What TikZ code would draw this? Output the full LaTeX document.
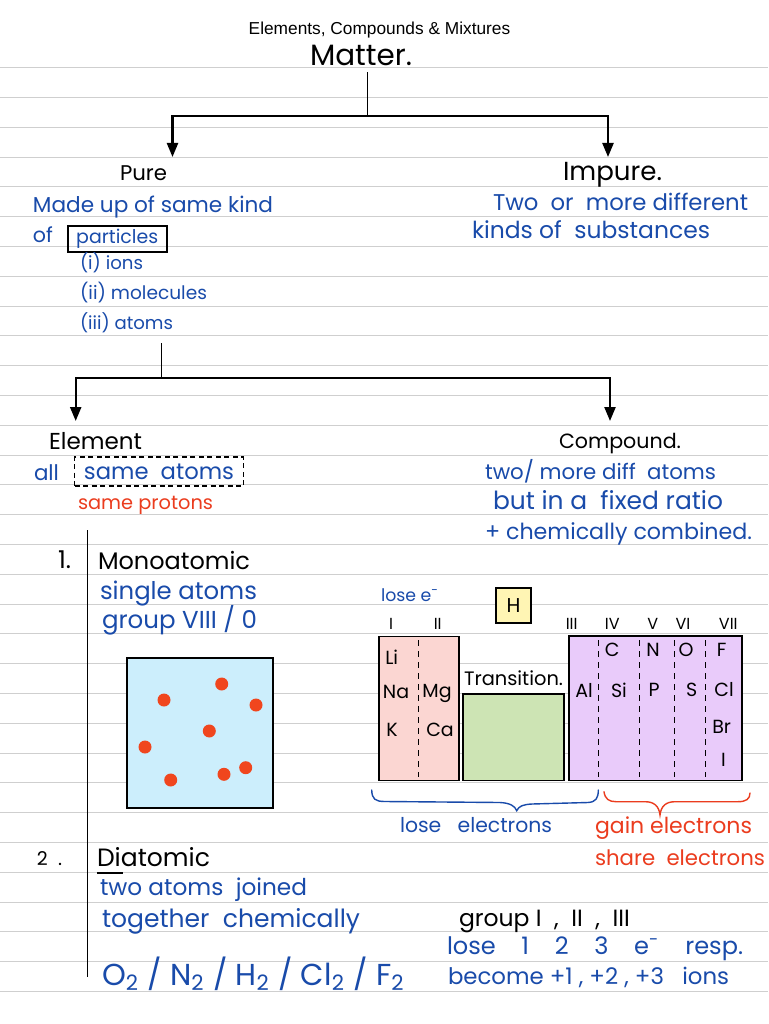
\documentclass[tikz,border=0pt]{standalone}
\usepackage{graphicx}
\usepackage{fontspec}
\setmainfont{Liberation Sans}
\newfontfamily\hwfont{Poppins}
\usetikzlibrary{arrows.meta}
\definecolor{ink}{HTML}{194BAA}
\definecolor{redink}{HTML}{EB3C1E}
\definecolor{dotred}{HTML}{F0461E}
\definecolor{rulegrey}{HTML}{CFCFCF}
\definecolor{boxblue}{HTML}{CCEEFC}
\definecolor{boxpink}{HTML}{FBD6D2}
\definecolor{boxgreen}{HTML}{CDE4B4}
\definecolor{boxpurple}{HTML}{E9CBFA}
\definecolor{boxyellow}{HTML}{FFF5B4}
\newcommand\fw[2]{\resizebox{#1pt}{!}{#2}}
\begin{document}
\begin{tikzpicture}[x=1pt,y=-1pt,
  hw/.style={font=\hwfont, inner sep=0pt, outer sep=0pt, anchor=base west},
  blk/.style={hw, text=black},
  blu/.style={hw, text=ink},
  rd/.style={hw, text=redink},
  sym/.style={font=\hwfont\fontsize{19}{19}\selectfont, inner sep=0pt, text=black},
  grp/.style={font=\hwfont\fontsize{16}{16}\selectfont, inner sep=0pt, text=black},
  ruleline/.style={draw=rulegrey, line width=1pt},
  stem/.style={draw=black, line width=1.4pt},
  bar/.style={draw=black, line width=2.3pt, -{Triangle[length=14pt,width=11pt]}},
  panel/.style={draw=black, line width=1.8pt, inner sep=0pt, outer sep=0pt},
  sep/.style={draw=black, line width=1pt, dash pattern=on 6pt off 5pt},
  atom/.style={circle, fill=dotred, inner sep=0pt, minimum size=13pt}]
\useasboundingbox (0,0) rectangle (768,1024);
\fill[white] (0,0) rectangle (768,1024);
% ruled lines
\foreach \i in {0,...,31}{
  \draw[ruleline] (0,{67.7+29.8*\i}) -- (768,{67.7+29.8*\i});
}
% title
\node[font=\fontsize{17.3}{19}\selectfont, inner sep=0pt] (title) at (379.5,30) {Elements, Compounds \& Mixtures};
% level 1
\node[blk] (matter) at (310,66) {\fw{102}{Matter.}};
\node[blk] (pure) at (120,181) {\fw{47}{Pure}};
\node[blk] (impure) at (563,181) {\fw{99}{Impure.}};
\coordinate (j1) at (367.5,116);
\coordinate (pureIn) at (172.5,157);
\coordinate (impureIn) at (608,157);
\draw[stem] (j1 |- matter.south) ++(0,6) -- (j1);
\draw[bar] (j1) -| (pureIn);
\draw[bar] (j1) -| (impureIn);
% pure description
\node[blu] (p1) at (33,213) {\fw{240}{Made up of same kind}};
\node[blu] (p2) at (33,243) {\fw{20}{of}};
\node[panel, minimum width=99pt, minimum height=26pt, text=ink, font=\hwfont] (part) at (117.2,238.7) {\fw{82}{particles}};
\node[blu] (p3) at (80,269) {\fw{63}{(i) ions}};
\node[blu] (p4) at (80,299) {\fw{127}{(ii) molecules}};
\node[blu] (p5) at (80,329) {\fw{93}{(iii) atoms}};
% impure description
\node[blu] (i1) at (493,211) {\fw{255}{Two\ \ or\ \ more different}};
\node[blu] (i2) at (472,239) {\fw{238}{kinds of\ \ substances}};
% level 2
\coordinate (j2) at (161.7,378.3);
\coordinate (elemIn) at (75.7,421);
\coordinate (compIn) at (610,421);
\draw[stem] (161.7,343) -- (j2);
\draw[bar] (j2) -| (elemIn);
\draw[bar] (j2) -| (compIn);
\node[blk] (element) at (49,449) {\fw{93}{Element}};
\node[blu] (all) at (34,480) {\fw{25}{all}};
\node[panel, dash pattern=on 5pt off 3.5pt, line width=1.6pt, minimum width=169pt, minimum height=29pt, text=ink, font=\hwfont] (same) at (159,471.5) {\fw{150}{same\ \ atoms}};
\node[rd] (protons) at (78,509) {\fw{135}{same protons}};
\node[blk] (compound) at (559,448) {\fw{122}{Compound.}};
\node[blu] (c1) at (485,479) {\fw{231}{two/ more diff\ \ atoms}};
\node[blu] (c2) at (493,509) {\fw{230}{but in a\ \ fixed ratio}};
\node[blu] (c3) at (485,539) {\fw{267}{+ chemically combined.}};
% left margin line
\draw[stem] (87.5,530) -- (87.5,977);
% monoatomic
\node[blk] (n1) at (58,568) {\fw{13}{1.}};
\node[blk] (mono) at (98,569) {\fw{152}{Monoatomic}};
\node[blu] (m1) at (100,599) {\fw{157}{single atoms}};
\node[blu] (m2) at (102,628) {\fw{155}{group VIII / 0}};
\node[panel, fill=boxblue, minimum width=145.4pt, minimum height=150pt] (gasbox) at (200,733.3) {};
\foreach \p/\q in {221.7/684, 164/700, 256/705, 209.3/731, 145/747, 245.7/767.7, 224/774.3, 170.7/780}{
  \node[atom] at (\p,\q) {};
}
% periodic table sketch
\node[blu] (losee) at (381,601) {\fw{58}{lose e\textsuperscript{-}}};
\node[panel, fill=boxyellow, minimum width=34.7pt, minimum height=35.6pt, font=\hwfont\fontsize{20}{20}\selectfont] (H) at (513.65,605.5) {H};
\node[grp] (gI) at (391,624) {I};
\node[grp] (gII) at (437.7,624) {II};
\node[grp] (gIII) at (571.7,624) {III};
\node[grp] (gIV) at (612.3,624) {IV};
\node[grp] (gV) at (652.7,624) {V};
\node[grp] (gVI) at (683,624) {VI};
\node[grp] (gVII) at (728.3,624) {VII};
\node[panel, fill=boxpink, minimum width=80pt, minimum height=144pt] (metals) at (419,708.5) {};
\node[panel, fill=boxgreen, minimum width=101.6pt, minimum height=86.5pt] (trans) at (513.5,737.25) {};
\node[panel, fill=boxpurple, minimum width=173.3pt, minimum height=144.5pt] (nonmet) at (655.65,708.25) {};
\draw[sep] (418.5,640) -- (418.5,777);
\foreach \xx in {598.3,639.3,674,705.3}{
  \draw[sep] (\xx,640) -- (\xx,777);
}
\node[blk] (translabel) at (464,685) {\fw{99}{Transition.}};
\node[sym] at (391.7,657) {Li};
\node[sym] at (396,692) {Na};
\node[sym] at (392,730) {K};
\node[sym] at (437,693) {Mg};
\node[sym] at (440,730) {Ca};
\node[sym] at (612.3,650) {C};
\node[sym] at (653,650) {N};
\node[sym] at (686,650) {O};
\node[sym] at (721.7,650) {F};
\node[sym] at (584,690) {Al};
\node[sym] at (619,690) {Si};
\node[sym] at (654,690) {P};
\node[sym] at (691.7,690) {S};
\node[sym] at (724,690) {Cl};
\node[sym] at (721.7,727) {Br};
\node[sym] at (723.5,760) {I};
% braces
\draw[ink, line width=1.4pt, line cap=round]
  (371.7,790) .. controls (372,799) and (375,801.5) .. (385,801.5)
  -- (500,802.5) .. controls (510,803) and (515,806) .. (516.7,810.7)
  .. controls (519,806) and (523,804.5) .. (532,804)
  -- (588,802.5) .. controls (596,802) and (598.3,798) .. (598.3,790);
\draw[redink, line width=1.4pt, line cap=round]
  (604,791.7) .. controls (605,799) and (609,801.7) .. (616,801.7)
  -- (645,801.7) .. controls (654,801.7) and (659,806) .. (660,815)
  .. controls (661,806) and (666,801.7) .. (675,801.7)
  -- (738,801.7) .. controls (746,801.7) and (750,799) .. (750,793);
\node[blu] (lose) at (400,832) {\fw{152}{lose\ \ \ electrons}};
\node[rd] (gain) at (595,833) {\fw{157}{gain electrons}};
\node[rd] (share) at (595,865) {\fw{170}{share\ \ electrons}};
% diatomic
\node[blk] (n2) at (37,865) {\fw{25}{2\ \ .}};
\node[blk] (dia) at (97,866) {\fw{113}{Diatomic}};
\draw[black, line width=1.3pt] (97,873) -- (123,873);
\node[blu] (d1) at (100,895) {\fw{207}{two atoms\ \ joined}};
\node[blu] (d2) at (102,927) {\fw{258}{together\ \ chemically}};
\node[blu] (d3) at (102,985) {\fw{303}{O\textsubscript{2} / N\textsubscript{2} / H\textsubscript{2} / Cl\textsubscript{2} / F\textsubscript{2}}};
\node[blk] (grp) at (459,926) {\fw{171}{group I\ \ ,\ \ II\ \ ,\ \ III}};
\node[blu] (g1) at (447,954) {\fw{296}{lose\ \ \ \ 1\ \ \ \ 2\ \ \ \ 3\ \ \ \ e\textsuperscript{-}\ \ \ \ resp.}};
\node[blu] (g2) at (448,984) {\fw{281}{become +1 , +2 , +3\ \ \ ions}};
\end{tikzpicture}
\end{document}
